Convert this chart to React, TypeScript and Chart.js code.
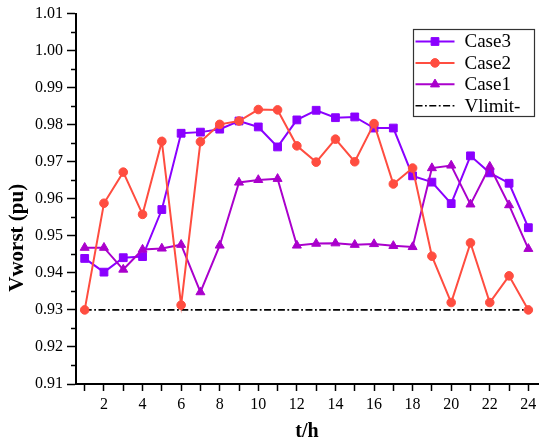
import React, { useEffect, useRef } from 'react';
import { Chart, registerables } from 'chart.js';

Chart.register(...registerables);

// ---- data ----
const HOURS = [1, 2, 3, 4, 5, 6, 7, 8, 9, 10, 11, 12, 13, 14, 15, 16, 17, 18, 19, 20, 21, 22, 23, 24];
const CASE3 = [0.9439, 0.9402, 0.9441, 0.9444, 0.9571, 0.9777, 0.978, 0.9788, 0.981, 0.9794, 0.974, 0.9813, 0.9839, 0.9819, 0.9821, 0.9791, 0.9791, 0.9662, 0.9645, 0.9587, 0.9716, 0.967, 0.9642, 0.9522];
const CASE2 = [0.93, 0.9588, 0.9672, 0.9558, 0.9755, 0.9313, 0.9754, 0.9801, 0.981, 0.9841, 0.984, 0.9743, 0.9699, 0.9761, 0.97, 0.9803, 0.964, 0.9683, 0.9445, 0.932, 0.9481, 0.932, 0.9392, 0.93];
const CASE1 = [0.9468, 0.9468, 0.9409, 0.9463, 0.9466, 0.9476, 0.9348, 0.9474, 0.9644, 0.9651, 0.9654, 0.9474, 0.9479, 0.948, 0.9476, 0.9478, 0.9473, 0.947, 0.9683, 0.969, 0.9585, 0.9687, 0.9583, 0.9465];
const VLIMIT = [0.93, 0.93, 0.93, 0.93, 0.93, 0.93, 0.93, 0.93, 0.93, 0.93, 0.93, 0.93, 0.93, 0.93, 0.93, 0.93, 0.93, 0.93, 0.93, 0.93, 0.93, 0.93, 0.93, 0.93];
const SERIES_LABELS = ['Case3', 'Case2', 'Case1', 'Vlimit-'];
const Y_TICKS = [0.91, 0.92, 0.93, 0.94, 0.95, 0.96, 0.97, 0.98, 0.99, 1.0, 1.01];
const Y_MINOR_TICKS = [0.915, 0.925, 0.935, 0.945, 0.955, 0.965, 0.975, 0.985, 0.995, 1.005];
const X_TICKS = HOURS;
const X_TITLE = 't/h';
const Y_TITLE = 'Vworst (pu)';

// ---- style ----
const COLOR_C3 = '#8a00ff';
const COLOR_C2 = '#ff4d40';
const COLOR_C1 = '#aa00cc';
const COLOR_LIMIT = '#000000';
const SERIF = '"Liberation Serif", "Times New Roman", serif';
const LIMIT_DASH = [7, 2.5, 1.8, 2.5];

const toPoints = (ys: number[]) => HOURS.map((h, i) => ({ x: h, y: ys[i] }));

function drawMarker(ctx: CanvasRenderingContext2D, style: string, x: number, y: number, r: number, color: string) {
  ctx.save();
  ctx.fillStyle = color;
  ctx.strokeStyle = color;
  ctx.lineWidth = 1;
  ctx.beginPath();
  if (style === 'rect') {
    const s = Math.SQRT1_2 * r;
    ctx.rect(x - s, y - s, 2 * s, 2 * s);
  } else if (style === 'circle') {
    ctx.arc(x, y, r, 0, Math.PI * 2);
  } else if (style === 'triangle') {
    const a = (2 * Math.PI) / 3;
    ctx.moveTo(x, y - r);
    ctx.lineTo(x + Math.sin(a) * r, y - Math.cos(a) * r);
    ctx.lineTo(x + Math.sin(2 * a) * r, y - Math.cos(2 * a) * r);
    ctx.closePath();
  }
  ctx.fill();
  ctx.stroke();
  ctx.restore();
}

const extrasPlugin = {
  id: 'extras',
  afterDraw(chart: any) {
    const { ctx, chartArea } = chart;
    const yScale = chart.scales.y;
    ctx.save();
    // minor y ticks
    ctx.strokeStyle = '#000';
    ctx.lineWidth = 1.5;
    Y_MINOR_TICKS.forEach((v) => {
      const py = Math.round(yScale.getPixelForValue(v)) + 0.5;
      ctx.beginPath();
      ctx.moveTo(chartArea.left - 5, py);
      ctx.lineTo(chartArea.left, py);
      ctx.stroke();
    });
    // y axis title
    ctx.save();
    ctx.translate(18, (chartArea.top + chartArea.bottom) / 2 + 39);
    ctx.rotate(-Math.PI / 2);
    ctx.font = `bold 21px ${SERIF}`;
    ctx.fillStyle = '#000';
    ctx.textAlign = 'center';
    ctx.textBaseline = 'middle';
    ctx.fillText(Y_TITLE, 0, 0);
    ctx.restore();

    // legend
    const boxW = 121;
    const boxH = 87;
    const left = Math.round(chartArea.right - 4 - boxW) + 0.5;
    const top = Math.round(chartArea.top + 15) + 0.5;
    ctx.fillStyle = '#fff';
    ctx.fillRect(left, top, boxW, boxH);
    ctx.strokeStyle = '#333';
    ctx.lineWidth = 1.2;
    ctx.strokeRect(left, top, boxW, boxH);
    SERIES_LABELS.forEach((label, i) => {
      const ds = chart.data.datasets.find((d: any) => d.label === label);
      if (!ds) return;
      const rowY = top + 12 + i * 21.4;
      ctx.save();
      ctx.strokeStyle = ds.borderColor;
      ctx.lineWidth = ds.borderWidth;
      ctx.setLineDash(ds.borderDash || []);
      ctx.beginPath();
      ctx.moveTo(left + 2, rowY);
      ctx.lineTo(left + 41, rowY);
      ctx.stroke();
      ctx.restore();
      if (ds.pointRadius > 0) {
        drawMarker(ctx, ds.pointStyle, left + 21.5, rowY, ds.pointRadius, ds.borderColor);
      }
      ctx.fillStyle = '#000';
      ctx.font = `19px ${SERIF}`;
      ctx.textAlign = 'left';
      ctx.textBaseline = 'middle';
      ctx.fillText(label, left + 51, rowY + 1);
    });
    ctx.restore();
  },
};

export default function App() {
  const ref = useRef<HTMLCanvasElement>(null);

  useEffect(() => {
    if (!ref.current) return;
    const chart = new Chart(ref.current, {
      type: 'line',
      data: {
        datasets: [
          {
            label: SERIES_LABELS[1],
            data: toPoints(CASE2),
            borderColor: COLOR_C2,
            backgroundColor: COLOR_C2,
            borderWidth: 2,
            pointStyle: 'circle',
            pointRadius: 4.3,
            pointBorderWidth: 1,
            pointBackgroundColor: COLOR_C2,
            pointBorderColor: COLOR_C2,
            tension: 0,
            fill: false,
          },
          {
            label: SERIES_LABELS[2],
            data: toPoints(CASE1),
            borderColor: COLOR_C1,
            backgroundColor: COLOR_C1,
            borderWidth: 2,
            pointStyle: 'triangle',
            pointRadius: 5.2,
            pointBorderWidth: 1,
            pointBackgroundColor: COLOR_C1,
            pointBorderColor: COLOR_C1,
            tension: 0,
            fill: false,
          },
          {
            label: SERIES_LABELS[0],
            data: toPoints(CASE3),
            borderColor: COLOR_C3,
            backgroundColor: COLOR_C3,
            borderWidth: 2,
            pointStyle: 'rect',
            pointRadius: 5.5,
            pointBorderWidth: 1,
            pointBackgroundColor: COLOR_C3,
            pointBorderColor: COLOR_C3,
            tension: 0,
            fill: false,
          },
          {
            label: SERIES_LABELS[3],
            data: toPoints(VLIMIT),
            borderColor: COLOR_LIMIT,
            backgroundColor: COLOR_LIMIT,
            borderWidth: 1.6,
            borderDash: LIMIT_DASH,
            pointRadius: 0,
            tension: 0,
            fill: false,
          },
        ],
      },
      options: {
        responsive: false,
        animation: false,
        events: [],
        layout: { padding: { left: 8, right: 12, top: 12, bottom: 0 } },
        plugins: {
          legend: { display: false },
          tooltip: { enabled: false },
        },
        scales: {
          x: {
            type: 'linear',
            min: 0.55,
            max: 24.5,
            afterBuildTicks: (s: any) => {
              s.ticks = X_TICKS.map((v) => ({ value: v }));
            },
            afterFit: (s: any) => {
              s.height = 63;
            },
            ticks: {
              autoSkip: false,
              maxRotation: 0,
              minRotation: 0,
              padding: 4,
              color: '#000',
              font: { family: SERIF, size: 16 },
              callback: (v: any) => (Number(v) % 2 === 0 ? String(v) : ''),
            },
            grid: {
              drawOnChartArea: false,
              drawTicks: true,
              tickLength: 7,
              tickWidth: 1.5,
              tickColor: '#000',
            },
            border: { display: true, color: '#000', width: 2 },
            title: {
              display: true,
              text: X_TITLE,
              color: '#000',
              font: { family: SERIF, size: 20, weight: 'bold' },
              padding: { top: 0, bottom: 3 },
            },
          },
          y: {
            type: 'linear',
            min: 0.91,
            max: 1.01,
            afterBuildTicks: (s: any) => {
              s.ticks = Y_TICKS.map((v) => ({ value: v }));
            },
            afterFit: (s: any) => {
              s.width = 68;
            },
            ticks: {
              autoSkip: false,
              padding: 4,
              color: '#000',
              font: { family: SERIF, size: 16 },
              callback: (v: any) => Number(v).toFixed(2),
            },
            grid: {
              drawOnChartArea: false,
              drawTicks: true,
              tickLength: 9,
              tickWidth: 1.5,
              tickColor: '#000',
            },
            border: { display: true, color: '#000', width: 2 },
          },
        },
      },
      plugins: [extrasPlugin],
    } as any);
    return () => chart.destroy();
  }, []);

  return (
    <div style={{ position: 'fixed', left: 0, top: 0, width: 550, height: 447, background: '#fff' }}>
      <canvas ref={ref} width={550} height={447} style={{ display: 'block', width: 550, height: 447 }} />
    </div>
  );
}
